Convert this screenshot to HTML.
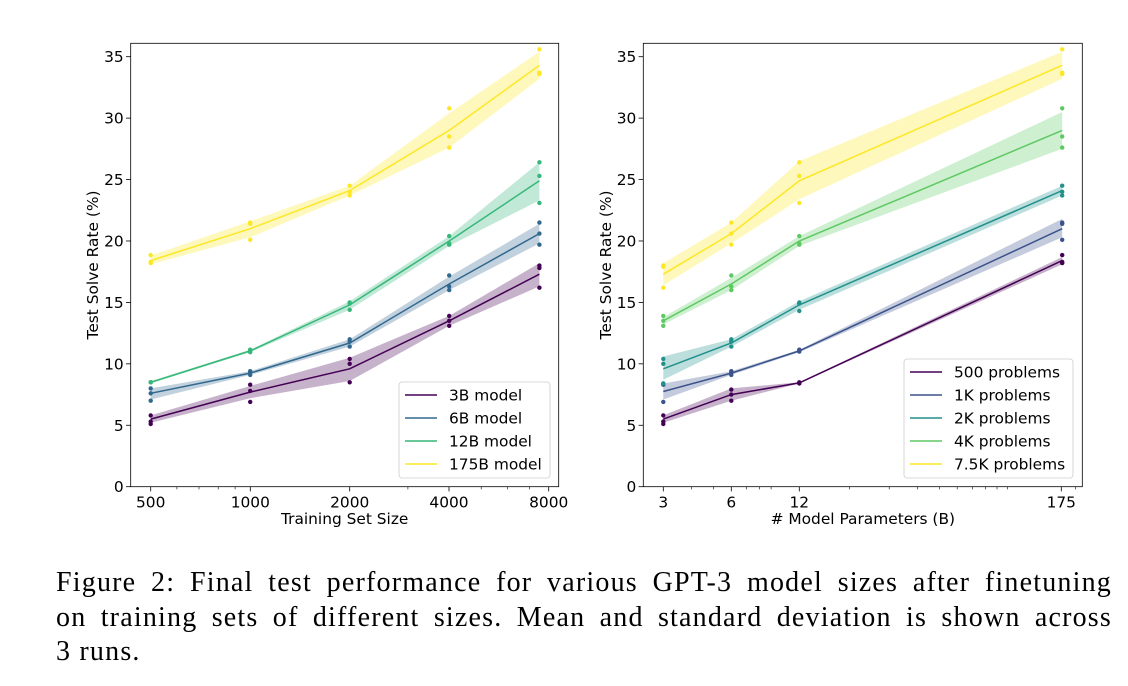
<!DOCTYPE html>
<html><head><meta charset="utf-8">
<style>
body{margin:0;background:#fff;width:1128px;height:686px;overflow:hidden;position:relative}
svg{position:absolute;left:0;top:0}
.cl{position:absolute;left:56px;width:1056px;font-family:"Liberation Serif",serif;font-size:28px;line-height:34px;color:#000;white-space:nowrap;letter-spacing:1.2px}
.j{text-align:justify;text-align-last:justify}
</style></head><body>
<svg id="s" width="1128" height="560" xmlns="http://www.w3.org/2000/svg" font-family="DejaVu Sans, sans-serif"></svg>
<div class="cl j" style="top:566px">Figure 2: Final test performance for various GPT-3 model sizes after finetuning</div>
<div class="cl j" style="top:601px">on training sets of different sizes. Mean and standard deviation is shown across</div>
<div class="cl" style="top:635px">3 runs.</div>
<script>
const s=document.getElementById('s');let h='';
const FS=15.4;
const Y0=486.7,YU=12.286;const Y=v=>Y0-v*YU;
const L=[
 [[5.5,5.2,5.8,[5.1,5.3,5.8]],[7.7,7.2,8.2,[6.9,7.8,8.3]],[9.6,8.6,10.5,[8.5,10.0,10.4]],[13.5,13.1,13.9,[13.1,13.5,13.9]],[17.3,16.3,18.2,[16.2,17.8,18.0]]],
 [[7.6,7.1,8.0,[7.0,7.6,8.0]],[9.25,9.1,9.4,[9.1,9.3,9.4]],[11.7,11.4,12.0,[11.4,11.8,12.0]],[16.5,16.0,17.1,[16.0,16.3,17.2]],[20.6,19.8,21.4,[19.7,20.6,21.5]]],
 [[8.5,8.4,8.6,[8.5,8.5,8.5]],[11.05,10.95,11.15,[10.95,11.05,11.15]],[14.8,14.4,15.1,[14.4,14.9,15.0]],[20.0,19.6,20.4,[19.7,19.8,20.4]],[24.9,23.3,26.4,[23.1,25.3,26.4]]],
 [[18.4,18.1,18.8,[18.2,18.3,18.85]],[21.0,20.3,21.6,[20.1,21.4,21.5]],[24.1,23.7,24.5,[23.7,24.0,24.5]],[29.0,27.6,30.4,[27.6,28.5,30.8]],[34.3,33.2,35.4,[33.6,33.7,35.6]]]];
const R=[
 [[5.5,5.2,5.8,[5.1,5.3,5.8]],[7.5,7.0,8.0,[7.0,7.5,7.9]],[8.45,8.4,8.5,[8.4,8.45,8.5]],[18.4,18.1,18.7,[18.2,18.3,18.85]]],
 [[7.75,7.1,8.4,[6.9,8.3,8.4]],[9.25,9.1,9.4,[9.1,9.3,9.4]],[11.05,10.95,11.15,[11.0,11.05,11.15]],[21.0,20.3,21.8,[20.1,21.4,21.5]]],
 [[9.6,8.7,10.6,[8.4,10.0,10.4]],[11.7,11.4,12.0,[11.4,11.8,12.0]],[14.8,14.4,15.1,[14.3,14.9,15.0]],[24.1,23.7,24.5,[23.7,24.0,24.5]]],
 [[13.5,13.2,13.8,[13.1,13.5,13.9]],[16.5,16.0,17.0,[16.0,16.3,17.2]],[20.0,19.6,20.4,[19.7,19.8,20.4]],[29.0,27.5,30.5,[27.6,28.5,30.8]]],
 [[17.3,16.4,18.2,[16.2,17.9,18.0]],[20.6,19.8,21.5,[19.7,20.6,21.5]],[24.9,23.4,26.5,[23.1,25.3,26.4]],[34.3,33.2,35.4,[33.6,33.7,35.6]]]];
const cL=['#440154','#31688e','#35b779','#fde725'];
const cR=['#440154','#3b528b','#21918c','#5ec962','#fde725'];
function series(data,xs,cols){
 data.forEach((ser,i)=>{const c=cols[i];
  let top=ser.map((d,j)=>xs[j]+','+Y(d[2]).toFixed(1)),bot=ser.map((d,j)=>xs[j]+','+Y(d[1]).toFixed(1)).reverse();
  h+=`<polygon points="${top.concat(bot).join(' ')}" fill="${c}" fill-opacity="0.3"/>`;
  h+=`<polyline points="${ser.map((d,j)=>xs[j]+','+Y(d[0]).toFixed(1)).join(' ')}" fill="none" stroke="${c}" stroke-width="1.5"/>`;
  ser.forEach((d,j)=>d[3].forEach(p=>h+=`<circle cx="${xs[j]}" cy="${Y(p).toFixed(1)}" r="2.2" fill="${c}"/>`));
 });}
function axes(x0,x1,majors,minors,ylabel,xlabel,ylx){
 for(let v=0;v<=35;v+=5){const y=Y(v);h+=`<line x1="${x0-4.7}" x2="${x0}" y1="${y}" y2="${y}" stroke="#000" stroke-width="0.8"/><text x="${x0-7}" y="${y+5.5}" font-size="${FS}" text-anchor="end">${v}</text>`;}
 majors.forEach(([x,t])=>{h+=`<line x1="${x}" x2="${x}" y1="${Y0}" y2="${Y0+4.7}" stroke="#000" stroke-width="0.8"/><text x="${x}" y="${Y0+21}" font-size="${FS}" text-anchor="middle">${t}</text>`;});
 minors.forEach(x=>{h+=`<line x1="${x}" x2="${x}" y1="${Y0}" y2="${Y0+2.7}" stroke="#000" stroke-width="0.6"/>`;});
 h+=`<rect x="${x0}" y="43.3" width="${x1-x0}" height="${Y0-43.3}" fill="none" stroke="#000" stroke-width="0.8"/>`;
 h+=`<text transform="translate(${ylx},265) rotate(-90)" font-size="${FS}" text-anchor="middle">${ylabel}</text>`;
 h+=`<text x="${(x0+x1)/2}" y="524" font-size="${FS}" text-anchor="middle">${xlabel}</text>`;}
function legend(x,y,w,hh,items,cols){
 h+=`<rect x="${x}" y="${y}" width="${w}" height="${hh}" rx="3" fill="#fff" fill-opacity="0.85" stroke="#ccc" stroke-width="0.8"/>`;
 items.forEach((t,i)=>{const yy=y+13+i*23;h+=`<line x1="${x+6}" x2="${x+38}" y1="${yy}" y2="${yy}" stroke="${cols[i]}" stroke-width="1.5"/><text x="${x+50}" y="${yy+5.5}" font-size="${FS}">${t}</text>`;});}
const lx=v=>150.7+99.5*Math.log2(v/500);
series(L,[500,1000,2000,4000,7500].map(v=>+lx(v).toFixed(1)),cL);
let mn=[];[600,700,800,900,3000,5000,6000,7000,9000].forEach(v=>{const x=lx(v);if(x<558)mn.push(x.toFixed(1));});
axes(130.7,558.7,[[150.7,500],[250.3,1000],[349.7,2000],[449,4000],[548.7,8000]],mn,'Test Solve Rate (%)','Training Set Size',98);
legend(399,382,151,96,['3B model','6B model','12B model','175B model'],cL);
const rx=v=>663.3+68*Math.log2(v/3);
series(R,[3,6,12,175].map(v=>+rx(v).toFixed(1)),cR);
mn=[];[2,4,5,7,8,9,20,30,40,50,60,70,80,90,100,200].forEach(v=>{const x=rx(v);if(x>643.3&&x<1082)mn.push(x.toFixed(1));});
axes(643.3,1082.3,[[663.3,3],[731.3,6],[799.3,12],[1061.3,175]],mn,'Test Solve Rate (%)','# Model Parameters (B)',611);
legend(904,359,169,119,['500 problems','1K problems','2K problems','4K problems','7.5K problems'],cR);
s.innerHTML=h;
</script>
</body></html>
